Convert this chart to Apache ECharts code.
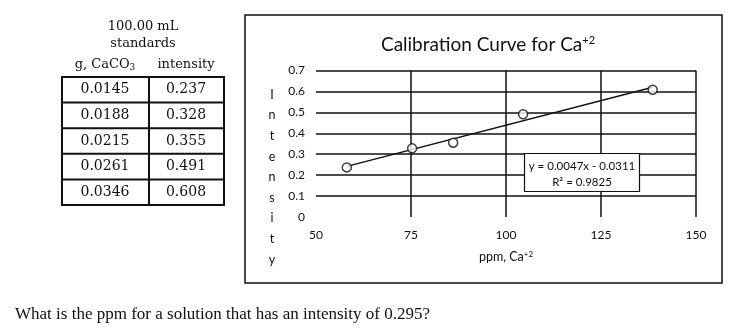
<!DOCTYPE html>
<html>
<head>
<meta charset="utf-8">
<script src="https://cdn.jsdelivr.net/npm/echarts@6/dist/echarts.min.js"></script>
<style>
html,body{margin:0;padding:0;background:#fff;}
#c{width:750px;height:333px;}
</style>
</head>
<body>
<div id="c"></div>
<script>
// ---- data ----
var gCaCO3 = ['0.0145', '0.0188', '0.0215', '0.0261', '0.0346'];
var intensityLabels = ['0.237', '0.328', '0.355', '0.491', '0.608'];
var ppm = [58.1, 75.3, 86.1, 104.5, 138.6];
var intensity = [0.237, 0.328, 0.355, 0.491, 0.608];
var trendX = [58.1, 138.6];
var trendY = [0.242, 0.620];
var xTicks = [50, 75, 100, 125, 150];
var yTicks = [0, 0.1, 0.2, 0.3, 0.4, 0.5, 0.6, 0.7];
var equationLines = ['y = 0.0047x - 0.0311', 'R\u00B2 = 0.9825'];
var tableTitle = ['100.00 mL', 'standards'];
var question = 'What is the ppm for a solution that has an intensity of 0.295?';

var chart = echarts.init(document.getElementById('c'), null, {renderer: 'canvas'});

var points = ppm.map(function (x, i) { return [x, intensity[i]]; });
var trend = trendX.map(function (x, i) { return [x, trendY[i]]; });

// ---- table graphics ----
var serif = '"DejaVu Serif", "Liberation Serif", serif';
var tblLeft = 62, tblRight = 224, tblDiv = 149, tblTop = 77, rowH = 25.6;
var g = [];
g.push({type: 'text', x: 143, y: 27, style: {text: tableTitle[0], font: '13px ' + serif, fill: '#111', align: 'center', verticalAlign: 'middle'}});
g.push({type: 'text', x: 143, y: 44, style: {text: tableTitle[1], font: '13px ' + serif, fill: '#111', align: 'center', verticalAlign: 'middle'}});
g.push({type: 'text', x: 105, y: 65, style: {rich: {a: {font: '13px ' + serif, fill: '#111'}, s: {font: '9px ' + serif, fill: '#111', padding: [6, 0, 0, 0]}}, text: '{a|g, CaCO}{s|3}', align: 'center', verticalAlign: 'middle'}});
g.push({type: 'text', x: 186, y: 65, style: {text: 'intensity', font: '13px ' + serif, fill: '#111', align: 'center', verticalAlign: 'middle'}});
var nRows = gCaCO3.length;
g.push({type: 'rect', shape: {x: tblLeft, y: tblTop, width: tblRight - tblLeft, height: rowH * nRows}, style: {fill: 'none', stroke: '#111', lineWidth: 2}});
g.push({type: 'line', shape: {x1: tblDiv, y1: tblTop, x2: tblDiv, y2: tblTop + rowH * nRows}, style: {stroke: '#111', lineWidth: 2}});
for (var i = 0; i < nRows; i++) {
  if (i > 0) {
    g.push({type: 'line', shape: {x1: tblLeft, y1: tblTop + rowH * i, x2: tblRight, y2: tblTop + rowH * i}, style: {stroke: '#111', lineWidth: 2}});
  }
  var cy = tblTop + rowH * i + rowH / 2;
  g.push({type: 'text', x: 105, y: cy, style: {text: gCaCO3[i], font: '14px ' + serif, fill: '#111', align: 'center', verticalAlign: 'middle'}});
  g.push({type: 'text', x: 186, y: cy, style: {text: intensityLabels[i], font: '14px ' + serif, fill: '#111', align: 'center', verticalAlign: 'middle'}});
}
// chart border
g.push({type: 'rect', shape: {x: 245, y: 15, width: 477, height: 268}, style: {fill: 'none', stroke: '#111', lineWidth: 1.5}});
// vertical y-axis name
g.push({type: 'text', x: 272, y: 84.5, style: {text: 'Intensity'.split('').join('\n'), font: '12.5px Lato', lineHeight: 20.6, fill: '#111', align: 'center', verticalAlign: 'top'}});
// equation box
g.push({type: 'rect', shape: {x: 524.5, y: 153.5, width: 115, height: 38}, style: {fill: '#fff', stroke: '#111', lineWidth: 1.2}, z: 100});
g.push({type: 'text', x: 582, y: 166, z: 101, style: {text: equationLines[0], font: '11.5px Lato', fill: '#111', align: 'center', verticalAlign: 'middle'}});
g.push({type: 'text', x: 582, y: 182, z: 101, style: {text: equationLines[1], font: '11.5px Lato', fill: '#111', align: 'center', verticalAlign: 'middle'}});
// question
g.push({type: 'text', x: 15, y: 315, style: {text: question, font: '17px "Liberation Serif", serif', fill: '#111', align: 'left', verticalAlign: 'middle'}});

var option = {
  backgroundColor: '#fff',
  animation: false,
  title: {
    text: '{a|Calibration Curve for Ca}{s|+2}',
    left: 483, top: 30,
    textAlign: 'center',
    textStyle: {
      rich: {
        a: {fontFamily: 'Lato', fontSize: 19, fontWeight: 'normal', color: '#111'},
        s: {fontFamily: 'Lato', fontSize: 11, fontWeight: 'normal', color: '#111', padding: [0, 0, 9, 0]}
      }
    }
  },
  grid: {left: 316, right: 54, top: 70.5, bottom: 116, containLabel: false},
  xAxis: {
    type: 'value', min: xTicks[0], max: xTicks[xTicks.length - 1], interval: 25,
    axisLine: {show: false}, axisTick: {show: false},
    axisLabel: {margin: 12, fontFamily: 'Lato', fontSize: 12, color: '#111'},
    splitLine: {show: true, showMinLine: false, lineStyle: {color: '#111', width: 1.5}},
    name: '{a|ppm, Ca}{s|+2}', nameLocation: 'middle', nameGap: 33,
    nameTextStyle: {rich: {a: {fontFamily: 'Lato', fontSize: 12.5, color: '#111'}, s: {fontFamily: 'Lato', fontSize: 8, color: '#111', padding: [0, 0, 6, 0]}}}
  },
  yAxis: {
    type: 'value', min: yTicks[0], max: yTicks[yTicks.length - 1], interval: 0.1,
    axisLine: {show: false}, axisTick: {show: false},
    axisLabel: {margin: 11, fontFamily: 'Lato', fontSize: 12, color: '#111', formatter: function (v) { return v === 0 ? '0' : v.toFixed(1); }},
    splitLine: {show: true, showMinLine: false, lineStyle: {color: '#111', width: 1.5}}
  },
  series: [
    {type: 'line', data: trend, symbol: 'none', lineStyle: {color: '#111', width: 1.5}, z: 3},
    {type: 'scatter', data: points, symbol: 'circle', symbolSize: 9, itemStyle: {color: '#fff', borderColor: '#111', borderWidth: 1.5}, z: 4}
  ],
  graphic: g
};
chart.setOption(option);
</script>
</body>
</html>
